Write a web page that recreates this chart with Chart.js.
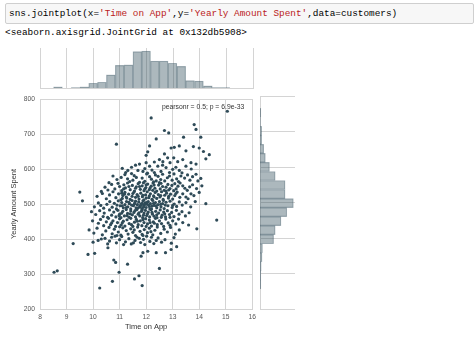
<!DOCTYPE html>
<html>
<head>
<meta charset="utf-8">
<script src="https://cdn.jsdelivr.net/npm/chart.js"></script>
<style>
  html, body { margin: 0; padding: 0; background: #fff; }
  body { position: relative; width: 474px; height: 351px; overflow: hidden; }
  .mono { font-family: "Liberation Mono", "DejaVu Sans Mono", monospace; font-size: 9.4px; white-space: pre; color: #000; }
  #cell { position: absolute; left: 5px; top: 3px; width: 469px; height: 21px; box-sizing: border-box;
          background: #f7f7f7; border: 1px solid #cfcfcf; border-radius: 2px; padding: 1px 0 0 3px; line-height: 18px; }
  #cell .s { color: #ba2121; }
  #out { position: absolute; left: 5px; top: 27px; line-height: 12px; }
  canvas { position: absolute; }
</style>
</head>
<body>
<div id="cell" class="mono">sns.jointplot(x=<span class="s">'Time on App'</span>,y=<span class="s">'Yearly Amount Spent'</span>,data=customers)</div>
<div id="out" class="mono">&lt;seaborn.axisgrid.JointGrid at 0x132db5908&gt;</div>

<canvas id="margX" width="260" height="50" style="left:0;top:40px"></canvas>
<canvas id="joint" width="260" height="250" style="left:0;top:90px"></canvas>
<canvas id="margY" width="44" height="250" style="left:256px;top:90px"></canvas>

<script>
// Jointplot: scatter of Time on App vs Yearly Amount Spent, with marginal histograms
const POINT_COLOR = '#2f4b58';
const BAR_FILL = 'rgba(48,78,91,0.4)';
const BAR_EDGE = 'rgba(48,78,91,0.35)';
const GRID = '#d4d4d4';
const FONT = "'Liberation Sans', Arial, sans-serif";

Chart.defaults.font.family = FONT;
Chart.defaults.color = '#555';
Chart.defaults.animation = false;

// [time on app, yearly amount spent]
const appTimeVsSpend = [
    // below 384
    [10.25,260],[10.73,279],[11.85,267],[10.98,305],[8.53,305],[11.56,286],[11.73,295],[8.65,309],[12.5,316],[11.3,328],
    [10.78,340],[10.85,333],[11.81,351],[9.81,356],[10.06,359],[11.88,361],[12.06,365],[12.38,361],[12.73,361],[12.94,370],
    [13.15,378],[10.56,375],
    // 384 - 409
    [9.25,387],[10.0,391],[10.19,396],[10.31,400],[12.29,387],[10.45,402],[10.62,394],[10.7,405],[10.88,389],[11.0,398],
    [11.08,407],[11.22,392],[11.35,401],[11.44,386],[11.58,396],[11.66,405],[11.79,390],[11.9,399],[12.02,408],[12.14,393],
    [12.45,403],[12.58,391],[12.71,398],[12.95,388],[10.83,408],[11.52,389],[11.74,402],[12.2,405],[10.55,386],[11.15,384],
    [11.95,384],[13.05,404],[12.38,396],
    // 409 - 435
    [9.85,426],[10.03,417],[13.91,429],[10.15,431],[10.35,412],[10.48,423],[10.6,433],[10.72,415],[10.8,428],[10.95,420],
    [11.05,411],[11.12,432],[11.25,424],[11.32,414],[11.42,429],[11.5,419],[11.6,410],[11.68,434],[11.77,422],[11.85,413],
    [11.93,427],[12.05,418],[12.12,431],[12.25,412],[12.33,425],[12.42,434],[12.55,416],[12.68,428],[12.8,420],[12.92,433],
    [13.1,414],[13.25,426],[11.0,435],[11.55,426],[11.88,410],[12.18,421],[10.9,410],
    // 435 - 460
    [9.98,452],[13.6,440],[13.38,447],[14.66,454],[10.2,445],[10.28,456],[10.4,438],[10.5,449],[10.58,459],[10.66,441],
    [10.75,452],[10.85,436],[10.92,447],[11.0,458],[11.06,440],[11.14,451],[11.2,437],[11.28,455],[11.36,444],[11.42,459],
    [11.5,436],[11.56,448],[11.63,456],[11.7,441],[11.78,452],[11.84,438],[11.92,447],[11.98,458],[12.05,443],[12.12,454],
    [12.2,437],[12.27,449],[12.35,459],[12.42,441],[12.5,452],[12.58,444],[12.66,436],[12.74,457],[12.83,446],[12.9,439],
    [13.0,452],[13.12,443],[13.22,457],[11.1,446],[11.45,441],[11.67,451],[12.0,436],[12.31,445],[11.88,455],[10.7,446],
    [12.15,447],
    // 460 - 485
    [10.38,464],[9.94,478],[10.1,470],[10.25,481],[10.42,474],[10.55,462],[10.62,483],[10.7,468],[10.78,477],[10.86,463],
    [10.93,482],[11.0,471],[11.05,461],[11.12,479],[11.18,466],[11.25,484],[11.3,473],[11.36,462],[11.42,480],[11.48,469],
    [11.54,476],[11.6,463],[11.65,484],[11.7,471],[11.76,466],[11.82,479],[11.87,461],[11.92,474],[11.97,482],[12.02,467],
    [12.08,477],[12.13,463],[12.18,484],[12.24,471],[12.3,465],[12.36,479],[12.41,461],[12.47,474],[12.53,483],[12.6,468],
    [12.66,477],[12.73,463],[12.8,481],[12.88,470],[12.96,476],[13.05,464],[13.14,482],[13.24,471],[13.35,478],[13.48,466],
    [13.62,475],[11.4,472],[11.58,481],[11.73,475],[11.9,468],[12.05,472],[12.22,476],[12.4,469],[12.57,462],[11.28,467],
    [11.08,474],[10.98,467],[12.7,472],[11.85,484],[12.9,462],
    // 485 - 511
    [10.29,496],[9.6,509],[14.25,501],[10.05,492],[10.2,503],[10.4,488],[10.52,499],[10.63,507],[10.72,491],[10.8,502],
    [10.88,486],[10.95,509],[11.02,495],[11.08,504],[11.14,489],[11.2,498],[11.26,507],[11.31,492],[11.37,501],[11.42,486],
    [11.47,510],[11.52,495],[11.57,503],[11.62,489],[11.67,498],[11.72,506],[11.76,492],[11.8,500],[11.84,487],[11.88,509],
    [11.92,496],[11.96,503],[12.0,490],[12.04,499],[12.08,507],[12.12,493],[12.16,501],[12.2,486],[12.25,510],[12.3,496],
    [12.35,504],[12.4,489],[12.45,498],[12.5,507],[12.56,492],[12.62,501],[12.68,487],[12.75,505],[12.82,495],[12.9,508],
    [12.98,490],[13.06,500],[13.15,493],[13.25,506],[13.36,497],[13.5,504],[13.68,492],[13.85,507],[11.78,495],[11.85,502],
    [11.9,491],[12.02,504],[11.7,489],[11.6,508],[12.22,494],[12.28,502],[11.45,497],[11.35,505],[12.1,497],[12.38,495],
    [11.95,499],[11.82,497],[12.55,499],[11.1,495],[11.25,490],[12.72,497],[12.65,510],[13.0,496],[10.9,497],[11.55,499],
    [12.14,486],
    // 511 - 536
    [9.5,534],[10.15,522],[13.69,529],[13.5,520],[10.35,530],[10.5,515],[10.62,526],[10.75,535],[10.86,518],[10.96,529],
    [11.05,512],[11.12,524],[11.2,533],[11.27,517],[11.34,528],[11.4,513],[11.47,522],[11.54,534],[11.6,519],[11.66,527],
    [11.73,514],[11.8,531],[11.86,521],[11.92,512],[11.98,526],[12.04,535],[12.1,518],[12.16,529],[12.22,513],[12.28,523],
    [12.34,533],[12.4,516],[12.46,527],[12.52,520],[12.58,535],[12.64,513],[12.7,525],[12.77,531],[12.84,517],[12.92,528],
    [13.0,514],[13.08,524],[13.17,534],[13.27,519],[13.38,529],[13.58,515],[13.8,524],[14.0,533],[11.1,516],[11.18,528],
    [11.25,520],[11.08,531],[11.88,525],[12.0,517],[12.3,520],[12.55,524],[11.7,522],[12.12,523],[11.5,530],[12.85,522],
    [13.12,530],
    // 536 - 562
    [10.56,540],[10.31,536],[11.16,555],[10.94,559],[13.75,555],[13.38,552],[13.13,543],[12.75,548],[12.56,559],[10.45,548],
    [10.7,556],[10.82,543],[11.0,550],[11.08,538],[11.22,546],[11.3,560],[11.4,541],[11.48,553],[11.56,537],[11.63,549],
    [11.7,558],[11.78,542],[11.85,552],[11.92,538],[11.99,547],[12.06,557],[12.12,541],[12.19,551],[12.26,560],[12.33,545],
    [12.4,537],[12.47,554],[12.53,543],[12.62,550],[12.68,539],[12.82,556],[12.9,544],[12.97,553],[13.04,538],[13.2,551],
    [13.28,560],[13.46,545],[13.55,539],[13.64,549],[13.9,544],[14.1,552],[11.9,561],[12.0,555],[12.3,554],[12.15,546],
    [11.75,550],[11.35,550],[12.5,561],[12.85,540],[13.08,558],[11.15,543],[10.6,561],[11.6,545],[12.25,539],[12.75,537],
    [11.95,543],
    // 562 - 587
    [10.75,580],[11.06,576],[14.06,573],[13.88,585],[13.56,583],[13.31,580],[12.88,580],[11.63,576],[12.13,578],[11.38,564],
    [11.75,562],[12.38,566],[10.9,570],[11.2,584],[11.3,572],[11.5,568],[11.55,581],[11.85,574],[11.95,565],[12.02,586],
    [12.2,571],[12.28,563],[12.45,579],[12.55,570],[12.62,585],[12.7,566],[12.8,575],[12.98,568],[13.05,586],[13.15,572],
    [13.22,564],[13.45,574],[13.65,568],[13.75,578],[12.35,583],[11.45,587],[13.95,566],
    // 587 - 613
    [11.31,596],[11.23,590],[11.69,596],[11.88,593],[13.0,599],[13.25,596],[12.31,590],[12.56,593],[12.13,608],[12.44,608],
    [12.75,604],[13.5,608],[11.45,605],[11.6,611],[11.95,601],[12.05,588],[12.22,597],[12.62,611],[12.88,590],[13.12,605],
    [13.35,589],[13.7,600],[11.1,602],
    // 613 and up
    [12.31,620],[12.63,621],[12.0,618],[12.9,618],[13.19,621],[13.69,618],[13.88,614],[11.75,614],[12.81,632],[13.04,632],
    [12.5,627],[13.38,627],[14.25,629],[12.0,639],[12.69,643],[14.38,641],[12.06,649],[14.16,650],[12.94,660],[14.0,660],
    [13.06,662],[13.5,652],[13.78,664],[12.13,666],[13.25,666],[10.88,671],[12.38,686],[13.41,691],[14.06,691],[12.85,703],
    [12.69,710],[13.88,713],[13.81,727],[12.19,746],[15.06,765]
];

// marginal histograms (bin edges and counts)
const timeBinEdges = [8.51, 8.84, 9.17, 9.50, 9.83, 10.16, 10.49, 10.83, 11.16, 11.49, 11.82,
                      12.15, 12.48, 12.81, 13.14, 13.47, 13.80, 14.14, 14.47, 14.80, 15.13];
const timeBinCounts = [2, 0, 1, 2, 9, 11, 25, 43, 44, 69, 70, 51, 51, 47, 41, 14, 13, 4, 1, 1];

const spendBinEdges = [256.7, 282.1, 307.6, 333.0, 358.5, 383.9, 409.3, 434.8, 460.2, 485.7, 511.1,
                       536.5, 562.0, 587.4, 612.9, 638.3, 663.7, 689.2, 714.6, 740.1, 765.5];
const spendBinCounts = [2, 2, 3, 5, 6, 33, 37, 51, 65, 81, 61, 61, 37, 23, 13, 9, 4, 4, 1, 2];

const timeTicks = [8, 9, 10, 11, 12, 13, 14, 15, 16];
const spendTicks = [200, 300, 400, 500, 600, 700, 800];
const statLabel = 'pearsonr = 0.5; p = 6.9e-33';

const binMid = edges => edges.slice(0, -1).map((e, i) => (e + edges[i + 1]) / 2);
const setTicks = list => scale => { scale.ticks = list.map(value => ({ value })); };

const noPlugins = { legend: { display: false }, tooltip: { enabled: false } };

// the stats annotation in the upper right of the joint axes
const statText = {
    id: 'statText',
    afterDatasetsDraw(chart) {
        const { ctx, chartArea } = chart;
        ctx.save();
        ctx.font = `6.8px ${FONT}`;
        ctx.fillStyle = '#333';
        ctx.textAlign = 'right';
        ctx.textBaseline = 'middle';
        ctx.fillText(statLabel, chartArea.right - 8, chartArea.top + 8.5);
        ctx.restore();
    }
};

new Chart(document.getElementById('joint'), {
    type: 'scatter',
    data: {
        datasets: [{
            data: appTimeVsSpend.map(([x, y]) => ({ x, y })),
            backgroundColor: POINT_COLOR,
            borderWidth: 0,
            pointRadius: 1.6,
        }],
    },
    options: {
        responsive: false,
        layout: { padding: { left: 0, right: 7, top: 6, bottom: 0 } },
        plugins: noPlugins,
        scales: {
            x: {
                type: 'linear', min: 8, max: 16,
                afterBuildTicks: setTicks(timeTicks),
                afterFit: s => { s.height = 31; },
                grid: { color: GRID, drawTicks: false },
                border: { color: GRID },
                ticks: { padding: 4, font: { size: 6.7 }, maxRotation: 0 },
                title: { display: true, text: 'Time on App', color: '#333', font: { size: 7.5 }, padding: { top: 0, bottom: 8.5 } },
            },
            y: {
                type: 'linear', min: 200, max: 800,
                afterBuildTicks: setTicks(spendTicks),
                afterFit: s => { s.width = 40; },
                grid: { color: GRID, drawTicks: false },
                border: { color: GRID },
                ticks: { padding: 5, font: { size: 6.7 } },
                title: { display: true, text: 'Yearly Amount Spent', color: '#333', font: { size: 7.5 }, padding: { top: 9.5, bottom: 0 } },
            },
        },
    },
    plugins: [statText],
});

new Chart(document.getElementById('margX'), {
    type: 'bar',
    data: {
        datasets: [{
            data: binMid(timeBinEdges).map((x, i) => ({ x, y: timeBinCounts[i] })),
            backgroundColor: BAR_FILL,
            borderColor: BAR_EDGE,
            borderWidth: 0.5,
            barPercentage: 1,
            categoryPercentage: 1,
        }],
    },
    options: {
        responsive: false,
        layout: { padding: { left: 40, right: 7, top: 8, bottom: 2 } },
        plugins: noPlugins,
        scales: {
            x: {
                type: 'linear', min: 8, max: 16, offset: false,
                afterBuildTicks: setTicks(timeTicks),
                afterFit: s => { s.height = 0; },
                grid: { color: GRID, drawTicks: false, offset: false },
                border: { color: GRID },
                ticks: { display: false },
            },
            y: { display: false, min: 0, max: 76 },
        },
    },
});

new Chart(document.getElementById('margY'), {
    type: 'bar',
    data: {
        datasets: [{
            data: binMid(spendBinEdges).map((y, i) => ({ x: spendBinCounts[i], y })),
            backgroundColor: BAR_FILL,
            borderColor: BAR_EDGE,
            borderWidth: 0.5,
            barPercentage: 1,
            categoryPercentage: 1,
        }],
    },
    options: {
        indexAxis: 'y',
        responsive: false,
        layout: { padding: { left: 4, right: 5, top: 6, bottom: 31 } },
        plugins: noPlugins,
        scales: {
            x: { display: false, min: 0, max: 85 },
            y: {
                type: 'linear', min: 200, max: 800, offset: false,
                afterBuildTicks: setTicks(spendTicks),
                afterFit: s => { s.width = 0; },
                grid: { color: GRID, drawTicks: false, offset: false },
                border: { color: GRID },
                ticks: { display: false },
            },
        },
    },
});
</script>
</body>
</html>
